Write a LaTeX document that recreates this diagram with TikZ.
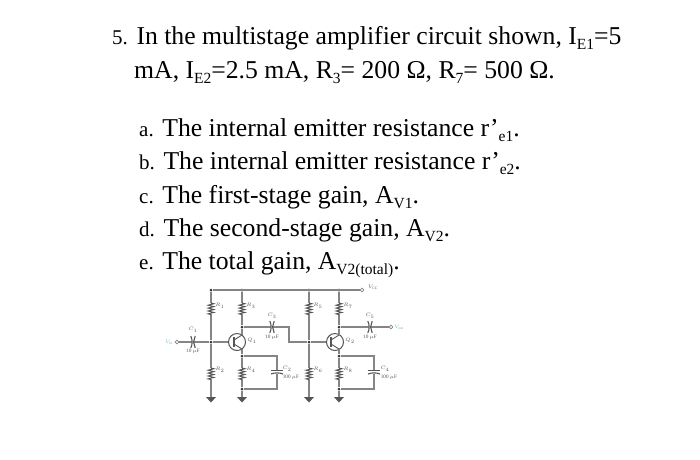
\documentclass[tikz,border=0pt]{standalone}
\usepackage{fontspec}
\setmainfont{Liberation Serif}
\usetikzlibrary{decorations.pathmorphing}
\definecolor{wirecol}{HTML}{858585}
\definecolor{darkcol}{HTML}{555555}
\definecolor{sigcol}{HTML}{6FB6CC}
\newcommand{\sbs}[1]{\raisebox{-0.22em}{\fontsize{15.5}{16}\selectfont #1}}
\tikzset{
  x=1pt,y=-1pt,
  wire/.style={draw=wirecol,line width=1.2pt},
  res/.style={draw=darkcol,line width=1pt,decoration={zigzag,segment length=2.9pt,amplitude=2.8pt},decorate},
  plate/.style={draw=darkcol,line width=1.1pt},
  dot/.style={circle,fill=black!80,inner sep=0pt,minimum size=3pt},
  term/.style={circle,draw=wirecol,fill=white,line width=.7pt,inner sep=0pt,minimum size=3.6pt},
  tr/.style={circle,draw=darkcol,line width=1pt,inner sep=0pt,minimum size=17pt},
  gnd/.style={fill=darkcol},
  tiny/.style={font=\fontsize{5.4}{6}\selectfont\itshape,text=darkcol,inner sep=0pt},
  val/.style={font=\fontsize{5.2}{6}\selectfont,text=darkcol,inner sep=0pt},
  sig/.style={font=\fontsize{5.4}{6}\selectfont\itshape,text=sigcol,inner sep=0pt},
  title/.style={font=\fontsize{25.7}{26}\selectfont,anchor=base west,inner sep=0pt},
  item/.style={font=\fontsize{25.7}{26}\selectfont,anchor=base west,inner sep=0pt},
}
\newcommand{\lett}[1]{{\fontsize{21}{22}\selectfont #1}}
\newcommand{\gndsym}[1]{\fill[gnd] ([xshift=-5pt]#1) -- ([xshift=5pt]#1) -- ([yshift=-5.5pt]#1) -- cycle;}
\begin{document}
\begin{tikzpicture}
\useasboundingbox (0,0) rectangle (700,459);
\fill[white] (0,0) rectangle (700,459);
% text
\node[title] (t1) at (112,44) {\lett{5.} In the multistage amplifier circuit shown, I\sbs{E1}=5};
\node[title] (t2) at (134,78) {mA, I\sbs{E2}=2.5 mA, R\sbs{3}= 200 Ω, R\sbs{7}= 500 Ω.};
\node[item] (ia) at (139,136) {\lett{a.} The internal emitter resistance r’\sbs{e1}.};
\node[item] (ib) at (139,169) {\lett{b.} The internal emitter resistance r’\sbs{e2}.};
\node[item] (ic) at (139,203) {\lett{c.} The first-stage gain, A\sbs{V1}.};
\node[item] (id) at (139,236) {\lett{d.} The second-stage gain, A\sbs{V2}.};
\node[item] (ie) at (139,269) {\lett{e.} The total gain, A\sbs{V2(total)}.};
% rail nodes
\node[dot] (ta) at (211,290) {};
\node[dot] (tb) at (242,290) {};
\node[dot] (tc) at (309,290) {};
\node[dot] (td) at (339,290) {};
\node[term] (vcc) at (362,290) {};
% base nodes
\node[term] (vin) at (177,342) {};
\node[dot] (ba) at (211,342) {};
\node[dot] (bc) at (309,342) {};
\node[tr] (q1) at (237,342) {};
\node[tr] (q2) at (335,342) {};
% collector / emitter
\node[dot] (c1) at (242,327) {};
\node[dot] (c2) at (339,327) {};
\node[dot] (e1) at (242,356) {};
\node[dot] (e2) at (339,356) {};
\node[dot] (f1) at (242,389) {};
\node[dot] (f2) at (339,389) {};
\node[term] (vout) at (391,327) {};
\coordinate (ga) at (211,397);
\coordinate (gb) at (242,397);
\coordinate (gc) at (309,397);
\coordinate (gd) at (339,397);
\coordinate (k1) at (289,327);
\coordinate (k2) at (289,342);
\coordinate (b1) at (277,356);
\coordinate (b2) at (277,389);
\coordinate (b3) at (374,356);
\coordinate (b4) at (374,389);
\coordinate (qc1) at (242,335);
\coordinate (qe1) at (242,349);
\coordinate (qc2) at (339,335);
\coordinate (qe2) at (339,349);
% wires
\draw[wire] (ta) -- (vcc);
\draw[wire] (vin) -- (ba) -- (q1.west);
\draw[wire] (c1) -- (k1) -- (k2) -- (bc) -- (q2.west);
\draw[wire] (c2) -- (vout);
\draw[wire] (e1) -- (b1) -- (b2) -- (f1);
\draw[wire] (e2) -- (b3) -- (b4) -- (f2);
\draw[wire] (ta) -- (ba) -- (ga);
\draw[wire] (tc) -- (bc) -- (gc);
\draw[wire] (tb) -- (c1) -- (qc1);
\draw[wire] (td) -- (c2) -- (qc2);
\draw[wire] (qe1) -- (e1) -- (f1) -- (gb);
\draw[wire] (qe2) -- (e2) -- (f2) -- (gd);
% resistors
\foreach \rx in {211,242,309,339}{
  \fill[white] (\rx-2,303) rectangle (\rx+2,315);
  \draw[res] (\rx,303) -- (\rx,315);
  \fill[white] (\rx-2,368) rectangle (\rx+2,380);
  \draw[res] (\rx,368) -- (\rx,380);
}
% grounds
\gndsym{ga}\gndsym{gb}\gndsym{gc}\gndsym{gd}
% transistors
\draw[darkcol,line width=1.3pt] (234,337) -- (234,347);
\draw[darkcol,line width=.9pt] (234,340) -- (qc1);
\draw[darkcol,line width=.9pt] (234,344) -- (qe1);
\draw[darkcol,line width=1.3pt] (331,337) -- (331,347);
\draw[darkcol,line width=.9pt] (331,340) -- (qc2);
\draw[darkcol,line width=.9pt] (331,344) -- (qe2);
% capacitors (series)
\foreach \cx/\cy in {193/342,272/327,370/327}{
  \fill[white] (\cx-1.2,\cy-1) rectangle (\cx+1.2,\cy+1);
  \draw[plate] (\cx-2.2,\cy-6) .. controls (\cx-.4,\cy-2) and (\cx-.4,\cy+2) .. (\cx-2.2,\cy+6);
  \draw[plate] (\cx+2.2,\cy-6) -- (\cx+.6,\cy) -- (\cx+2.2,\cy+6);
}
% capacitors (bypass)
\foreach \cx/\cy in {277/372,374/372}{
  \fill[white] (\cx-1,\cy-1.5) rectangle (\cx+1,\cy+1.5);
  \draw[plate] (\cx-6,\cy-1.6) -- (\cx+6,\cy-1.6);
  \draw[plate] (\cx-6,\cy+2) .. controls (\cx-2,\cy+.5) and (\cx+2,\cy+.5) .. (\cx+6,\cy+2);
}
% labels
\node[tiny] (lr1) at (220,306) {$R_{1}$};
\node[tiny] (lr3) at (251,306) {$R_{3}$};
\node[tiny] (lr5) at (318,306) {$R_{5}$};
\node[tiny] (lr7) at (348,306) {$R_{7}$};
\node[tiny] (lr2) at (220,370) {$R_{2}$};
\node[tiny] (lr4) at (251,370) {$R_{4}$};
\node[tiny] (lr6) at (318,370) {$R_{6}$};
\node[tiny] (lr8) at (348,370) {$R_{8}$};
\node[tiny] (lq1) at (252,341) {$Q_{1}$};
\node[tiny] (lq2) at (350,341) {$Q_{2}$};
\node[tiny] (lc1) at (193,330) {$C_{1}$};
\node[tiny] (lc3) at (272,316) {$C_{3}$};
\node[tiny] (lc5) at (370,316) {$C_{5}$};
\node[tiny] (lc2) at (287,369) {$C_{2}$};
\node[tiny] (lc4) at (385,369) {$C_{4}$};
\node[val] (v1) at (193,351) {10 $\mu$F};
\node[val] (v3) at (272,337) {10 $\mu$F};
\node[val] (v5) at (370,337) {10 $\mu$F};
\node[val] (v2) at (291,377) {100 $\mu$F};
\node[val] (v4) at (389,377) {100 $\mu$F};
\node[tiny] (lvcc) at (373,287) {$V_{\rm CC}$};
\node[sig] (lvin) at (169,342) {$V_{\rm in}$};
\node[sig] (lvout) at (399,327) {$V_{\rm out}$};
\end{tikzpicture}
\end{document}
